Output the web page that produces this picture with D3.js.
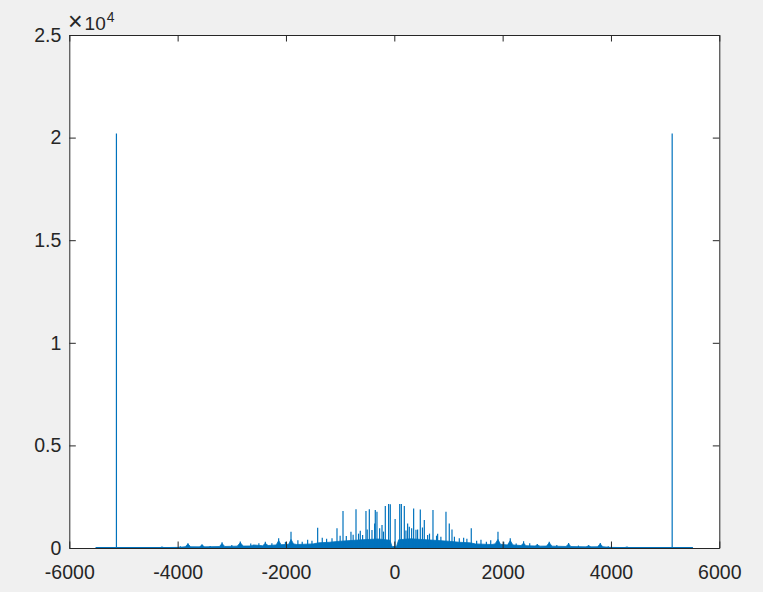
<!DOCTYPE html>
<html lang="en">

<head>
    <meta charset="UTF-8">
    <title>Spectrum</title>
    <script src="https://d3js.org/d3.v7.min.js"></script>
    <style type="text/css">
        body {
            margin: 0;
            background: #f0f0f0;
            font-family: 'Liberation Sans', Arial, sans-serif;
        }
    </style>
</head>

<body>
    <div id="chart"></div>
</body>
<script>
    // frequency range of the trace (Hz)
    var fMin = -5512, fMax = 5512;

    // the two big tones
    var toneFreq = [-5130, 5130];
    var toneMag = [20200, 20200];

    // narrow spikes, negative side
    var negFreq = [-74, -105, -166, -200, -227, -271, -320, -351, -363, -412, -461, -500, -523, -585, -628, -660, -707, -760, -800, -886, -947, -1000, -1058, -1150, -1250, -1330, -1415, -1520, -1600, -1700, -1780, -1907, -2010, -2135, -2260, -2381, -2500, -2650, -2843, -3000, -3180, -3400, -3550, -3810, -3950, -4290, -4700];
    var negMag = [2128, 2144, 2047, 800, 1120, 960, 1770, 1850, 1200, 877, 1884, 900, 1803, 633, 843, 700, 1884, 650, 794, 585, 1803, 600, 960, 473, 450, 500, 990, 350, 400, 300, 380, 794, 300, 473, 230, 300, 230, 220, 320, 150, 280, 100, 180, 230, 80, 60, 30];

    // narrow spikes, positive side
    var posFreq = [15, 100, 130, 185, 215, 246, 277, 320, 357, 400, 430, 480, 520, 554, 615, 650, 714, 780, 800, 860, 954, 1015, 1065, 1110, 1200, 1280, 1340, 1421, 1520, 1600, 1700, 1780, 1914, 2020, 2141, 2250, 2387, 2500, 2640, 2861, 3000, 3218, 3400, 3587, 3803, 3950, 4296, 4700];
    var posMag = [1410, 2144, 2140, 2050, 850, 1200, 1040, 960, 1930, 890, 900, 1880, 1000, 1360, 630, 700, 1850, 600, 700, 550, 1770, 1200, 900, 550, 480, 500, 450, 960, 350, 400, 300, 380, 794, 300, 473, 220, 330, 230, 200, 310, 150, 245, 120, 135, 245, 80, 60, 30];

    // upper edge of the dense filled part (with the broad hills)
    var floorFreq = [-5512, -5000, -4600, -4330, -4290, -4250, -4000, -3860, -3810, -3760, -3600, -3550, -3500, -3230, -3180, -3130, -2900, -2843, -2790, -2650, -2600, -2430, -2381, -2330, -2180, -2135, -2090, -1950, -1907, -1860, -1800, -1500, -1400, -1200, -1000, -600, -300, -80, -40, 0, 40, 80, 300, 600, 1000, 1200, 1400, 1500, 1800, 1860, 1914, 1960, 2090, 2141, 2190, 2340, 2387, 2430, 2600, 2640, 2690, 2810, 2861, 2910, 3170, 3218, 3260, 3540, 3587, 3630, 3750, 3803, 3850, 4000, 4250, 4296, 4340, 4600, 5000, 5512];
    var floorMag = [3, 8, 15, 15, 45, 20, 30, 60, 200, 60, 55, 140, 55, 70, 220, 75, 90, 260, 95, 100, 150, 110, 230, 120, 150, 360, 160, 180, 420, 200, 170, 200, 250, 280, 330, 400, 440, 380, 60, 80, 60, 400, 450, 400, 330, 280, 250, 200, 170, 200, 420, 180, 150, 360, 150, 120, 240, 110, 100, 150, 90, 95, 260, 90, 75, 200, 70, 55, 110, 55, 60, 200, 60, 30, 20, 45, 15, 15, 8, 3];

    var xTicks = [-6000, -4000, -2000, 0, 2000, 4000, 6000];
    var yTicks = [0, 5000, 10000, 15000, 20000, 25000];

    var W = 763, H = 592;
    var mLeft = 69.3, mRight = 719.3, mTop = 35, mBottom = 548;
    var blue = "#0072BD", ink = "#262626";

    var svg = d3.select("#chart").append("svg")
        .attr("width", W)
        .attr("height", H)
        .style("background-color", "#f0f0f0")
        .style("display", "block");

    var x = d3.scaleLinear().domain([-6000, 6000]).range([mLeft, mRight]);
    var y = d3.scaleLinear().domain([0, 25000]).range([mBottom, mTop]);

    // white axes area
    svg.append("rect")
        .attr("x", mLeft).attr("y", mTop)
        .attr("width", mRight - mLeft).attr("height", mBottom - mTop)
        .attr("fill", "#fff");

    var plot = svg.append("g");

    // dense part as an area
    var floorPts = floorFreq.map(function (f, i) { return [f, floorMag[i]]; });
    plot.append("path")
        .datum(floorPts)
        .attr("fill", blue)
        .attr("stroke", blue)
        .attr("stroke-width", 0.8)
        .attr("d", d3.area()
            .x(function (d) { return x(d[0]); })
            .y0(y(0))
            .y1(function (d) { return y(d[1]); }));

    // baseline of the trace
    plot.append("line")
        .attr("x1", x(fMin)).attr("x2", x(fMax))
        .attr("y1", y(0) - 0.5).attr("y2", y(0) - 0.5)
        .attr("stroke", blue).attr("stroke-width", 1);

    var spikes = [];
    negFreq.forEach(function (f, i) { spikes.push([f, negMag[i]]); });
    posFreq.forEach(function (f, i) { spikes.push([f, posMag[i]]); });
    toneFreq.forEach(function (f, i) { spikes.push([f, toneMag[i]]); });

    plot.selectAll("line.spike")
        .data(spikes)
        .enter()
        .append("line")
        .attr("class", "spike")
        .attr("x1", function (d) { return x(d[0]); })
        .attr("x2", function (d) { return x(d[0]); })
        .attr("y1", y(0))
        .attr("y2", function (d) { return y(d[1]); })
        .attr("stroke", blue)
        .attr("stroke-width", 1.2);

    // axes, ticks pointing inward
    function style(g) {
        g.select(".domain").attr("stroke", ink).attr("stroke-width", 1);
        g.selectAll(".tick line").attr("stroke", ink);
        g.selectAll("text")
            .attr("fill", ink)
            .style("font-family", "'Liberation Sans', Arial, sans-serif")
            .style("font-size", "19.5px");
    }

    svg.append("g")
        .attr("transform", "translate(0," + mBottom + ")")
        .call(d3.axisBottom(x).tickValues(xTicks).tickSizeInner(-6.5).tickSizeOuter(0).tickPadding(17)
            .tickFormat(function (d) { return d < 0 ? "-" + Math.abs(d) : d; }))
        .call(style);

    svg.append("g")
        .attr("transform", "translate(0," + mTop + ")")
        .call(d3.axisTop(x).tickValues(xTicks).tickSizeInner(-6.5).tickSizeOuter(0).tickFormat(""))
        .call(style);

    svg.append("g")
        .attr("transform", "translate(" + mLeft + ",0)")
        .call(d3.axisLeft(y).tickValues(yTicks).tickSizeInner(-6.5).tickSizeOuter(0).tickPadding(8)
            .tickFormat(function (d) { return d / 1e4; }))
        .call(style);

    svg.append("g")
        .attr("transform", "translate(" + mRight + ",0)")
        .call(d3.axisRight(y).tickValues(yTicks).tickSizeInner(-6.5).tickSizeOuter(0).tickFormat(""))
        .call(style);

    // exponent label
    var ex = svg.append("text")
        .attr("x", 68)
        .attr("y", 29.5)
        .attr("fill", ink)
        .style("font-family", "'Liberation Sans', Arial, sans-serif")
        .style("font-size", "19px");
    ex.append("tspan").style("font-size", "25px").style("font-weight", "300").text("\u00d7");
    ex.append("tspan").attr("dx", 2).text("10");
    ex.append("tspan").attr("dy", -7.5).attr("dx", 1).style("font-size", "14px").text("4");
</script>

</html>
